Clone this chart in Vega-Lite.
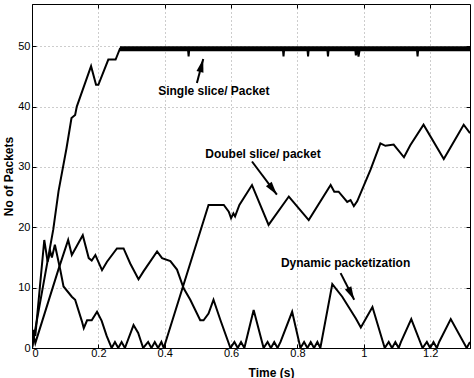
{
  "$schema": "https://vega.github.io/schema/vega-lite/v6.json",
  "width": 438,
  "height": 344,
  "autosize": {"type": "none"},
  "padding": {"left": 32, "top": 4, "right": 4, "bottom": 30},
  "background": "white",
  "config": {
    "view": {"stroke": "black", "strokeWidth": 1},
    "font": "Liberation Sans",
    "axis": {
      "labelFont": "Liberation Sans",
      "labelFontSize": 11,
      "labelColor": "black",
      "titleFont": "Liberation Sans",
      "titleFontSize": 12,
      "titleFontWeight": "bold",
      "titleColor": "black",
      "domainColor": "black",
      "tickColor": "black",
      "gridColor": "#9a9a9a",
      "gridDash": [1, 3],
      "gridWidth": 1
    }
  },
  "datasets": {
    "lines": [
      {"series": "Single slice/ Packet", "t": 0, "n": 0},
      {"series": "Single slice/ Packet", "t": 0.004, "n": 1.3},
      {"series": "Single slice/ Packet", "t": 0.064, "n": 19.6},
      {"series": "Single slice/ Packet", "t": 0.08, "n": 26},
      {"series": "Single slice/ Packet", "t": 0.104, "n": 33.1},
      {"series": "Single slice/ Packet", "t": 0.119, "n": 38.1},
      {"series": "Single slice/ Packet", "t": 0.13, "n": 38.6},
      {"series": "Single slice/ Packet", "t": 0.135, "n": 40},
      {"series": "Single slice/ Packet", "t": 0.178, "n": 46.7},
      {"series": "Single slice/ Packet", "t": 0.193, "n": 43.6},
      {"series": "Single slice/ Packet", "t": 0.2, "n": 43.6},
      {"series": "Single slice/ Packet", "t": 0.23, "n": 47.8},
      {"series": "Single slice/ Packet", "t": 0.252, "n": 47.8},
      {"series": "Single slice/ Packet", "t": 0.265, "n": 49.6},
      {"series": "Single slice/ Packet", "t": 0.47, "n": 49.6},
      {"series": "Single slice/ Packet", "t": 0.472, "n": 48.3},
      {"series": "Single slice/ Packet", "t": 0.474, "n": 49.6},
      {"series": "Single slice/ Packet", "t": 0.756, "n": 49.6},
      {"series": "Single slice/ Packet", "t": 0.758, "n": 48.3},
      {"series": "Single slice/ Packet", "t": 0.76, "n": 49.6},
      {"series": "Single slice/ Packet", "t": 0.83, "n": 49.6},
      {"series": "Single slice/ Packet", "t": 0.832, "n": 48.3},
      {"series": "Single slice/ Packet", "t": 0.834, "n": 49.6},
      {"series": "Single slice/ Packet", "t": 0.89, "n": 49.6},
      {"series": "Single slice/ Packet", "t": 0.892, "n": 48.3},
      {"series": "Single slice/ Packet", "t": 0.894, "n": 49.6},
      {"series": "Single slice/ Packet", "t": 0.974, "n": 49.6},
      {"series": "Single slice/ Packet", "t": 0.976, "n": 48.5},
      {"series": "Single slice/ Packet", "t": 0.98, "n": 49.6},
      {"series": "Single slice/ Packet", "t": 0.984, "n": 48.3},
      {"series": "Single slice/ Packet", "t": 0.988, "n": 49.6},
      {"series": "Single slice/ Packet", "t": 1.16, "n": 49.6},
      {"series": "Single slice/ Packet", "t": 1.162, "n": 48.3},
      {"series": "Single slice/ Packet", "t": 1.164, "n": 49.6},
      {"series": "Single slice/ Packet", "t": 1.32, "n": 49.6},

      {"series": "Doubel slice/ packet", "t": 0, "n": 0},
      {"series": "Doubel slice/ packet", "t": 0.005, "n": 3},
      {"series": "Doubel slice/ packet", "t": 0.01, "n": 2},
      {"series": "Doubel slice/ packet", "t": 0.037, "n": 17.9},
      {"series": "Doubel slice/ packet", "t": 0.047, "n": 14.3},
      {"series": "Doubel slice/ packet", "t": 0.055, "n": 16},
      {"series": "Doubel slice/ packet", "t": 0.06, "n": 15},
      {"series": "Doubel slice/ packet", "t": 0.069, "n": 17.1},
      {"series": "Doubel slice/ packet", "t": 0.085, "n": 13},
      {"series": "Doubel slice/ packet", "t": 0.095, "n": 10.2},
      {"series": "Doubel slice/ packet", "t": 0.12, "n": 8.5},
      {"series": "Doubel slice/ packet", "t": 0.13, "n": 8},
      {"series": "Doubel slice/ packet", "t": 0.15, "n": 4.5},
      {"series": "Doubel slice/ packet", "t": 0.156, "n": 3.3},
      {"series": "Doubel slice/ packet", "t": 0.166, "n": 4.6},
      {"series": "Doubel slice/ packet", "t": 0.18, "n": 4.6},
      {"series": "Doubel slice/ packet", "t": 0.196, "n": 6.0},
      {"series": "Doubel slice/ packet", "t": 0.21, "n": 4.5},
      {"series": "Doubel slice/ packet", "t": 0.225, "n": 2},
      {"series": "Doubel slice/ packet", "t": 0.24, "n": 0},
      {"series": "Doubel slice/ packet", "t": 0.25, "n": 1},
      {"series": "Doubel slice/ packet", "t": 0.26, "n": 0},
      {"series": "Doubel slice/ packet", "t": 0.27, "n": 1},
      {"series": "Doubel slice/ packet", "t": 0.28, "n": 0},
      {"series": "Doubel slice/ packet", "t": 0.306, "n": 3.8},
      {"series": "Doubel slice/ packet", "t": 0.32, "n": 2.5},
      {"series": "Doubel slice/ packet", "t": 0.335, "n": 0},
      {"series": "Doubel slice/ packet", "t": 0.35, "n": 1},
      {"series": "Doubel slice/ packet", "t": 0.36, "n": 0},
      {"series": "Doubel slice/ packet", "t": 0.37, "n": 1},
      {"series": "Doubel slice/ packet", "t": 0.38, "n": 0},
      {"series": "Doubel slice/ packet", "t": 0.39, "n": 1},
      {"series": "Doubel slice/ packet", "t": 0.397, "n": 0},
      {"series": "Doubel slice/ packet", "t": 0.532, "n": 23.7},
      {"series": "Doubel slice/ packet", "t": 0.578, "n": 23.7},
      {"series": "Doubel slice/ packet", "t": 0.593, "n": 22.6},
      {"series": "Doubel slice/ packet", "t": 0.6, "n": 21.5},
      {"series": "Doubel slice/ packet", "t": 0.607, "n": 22.3},
      {"series": "Doubel slice/ packet", "t": 0.612, "n": 21.8},
      {"series": "Doubel slice/ packet", "t": 0.625, "n": 23.7},
      {"series": "Doubel slice/ packet", "t": 0.663, "n": 27.0},
      {"series": "Doubel slice/ packet", "t": 0.713, "n": 20.4},
      {"series": "Doubel slice/ packet", "t": 0.774, "n": 25.1},
      {"series": "Doubel slice/ packet", "t": 0.834, "n": 21.2},
      {"series": "Doubel slice/ packet", "t": 0.9, "n": 27.0},
      {"series": "Doubel slice/ packet", "t": 0.911, "n": 25.9},
      {"series": "Doubel slice/ packet", "t": 0.924, "n": 25.9},
      {"series": "Doubel slice/ packet", "t": 0.95, "n": 24.2},
      {"series": "Doubel slice/ packet", "t": 0.96, "n": 24.5},
      {"series": "Doubel slice/ packet", "t": 0.97, "n": 23.5},
      {"series": "Doubel slice/ packet", "t": 0.98, "n": 24.3},
      {"series": "Doubel slice/ packet", "t": 1.02, "n": 29.5},
      {"series": "Doubel slice/ packet", "t": 1.05, "n": 33.9},
      {"series": "Doubel slice/ packet", "t": 1.065, "n": 33.5},
      {"series": "Doubel slice/ packet", "t": 1.09, "n": 33.7},
      {"series": "Doubel slice/ packet", "t": 1.121, "n": 31.6},
      {"series": "Doubel slice/ packet", "t": 1.14, "n": 33.6},
      {"series": "Doubel slice/ packet", "t": 1.18, "n": 37.0},
      {"series": "Doubel slice/ packet", "t": 1.241, "n": 31.3},
      {"series": "Doubel slice/ packet", "t": 1.301, "n": 37.0},
      {"series": "Doubel slice/ packet", "t": 1.32, "n": 35.6},

      {"series": "Dynamic packetization", "t": 0, "n": 0},
      {"series": "Dynamic packetization", "t": 0.005, "n": 2},
      {"series": "Dynamic packetization", "t": 0.01, "n": 0.8},
      {"series": "Dynamic packetization", "t": 0.079, "n": 12.9},
      {"series": "Dynamic packetization", "t": 0.109, "n": 17.9},
      {"series": "Dynamic packetization", "t": 0.12, "n": 15.4},
      {"series": "Dynamic packetization", "t": 0.14, "n": 17.4},
      {"series": "Dynamic packetization", "t": 0.153, "n": 18.7},
      {"series": "Dynamic packetization", "t": 0.171, "n": 14.9},
      {"series": "Dynamic packetization", "t": 0.18, "n": 14.5},
      {"series": "Dynamic packetization", "t": 0.191, "n": 15.4},
      {"series": "Dynamic packetization", "t": 0.211, "n": 12.9},
      {"series": "Dynamic packetization", "t": 0.226, "n": 14.3},
      {"series": "Dynamic packetization", "t": 0.256, "n": 16.5},
      {"series": "Dynamic packetization", "t": 0.276, "n": 16.5},
      {"series": "Dynamic packetization", "t": 0.296, "n": 14.0},
      {"series": "Dynamic packetization", "t": 0.321, "n": 11.4},
      {"series": "Dynamic packetization", "t": 0.336, "n": 12.7},
      {"series": "Dynamic packetization", "t": 0.377, "n": 16},
      {"series": "Dynamic packetization", "t": 0.392, "n": 14.9},
      {"series": "Dynamic packetization", "t": 0.417, "n": 14.4},
      {"series": "Dynamic packetization", "t": 0.437, "n": 13.0},
      {"series": "Dynamic packetization", "t": 0.457, "n": 9.9},
      {"series": "Dynamic packetization", "t": 0.477, "n": 8.0},
      {"series": "Dynamic packetization", "t": 0.507, "n": 4.6},
      {"series": "Dynamic packetization", "t": 0.517, "n": 4.6},
      {"series": "Dynamic packetization", "t": 0.532, "n": 5.7},
      {"series": "Dynamic packetization", "t": 0.547, "n": 8.0},
      {"series": "Dynamic packetization", "t": 0.568, "n": 4.6},
      {"series": "Dynamic packetization", "t": 0.598, "n": 0},
      {"series": "Dynamic packetization", "t": 0.61, "n": 1},
      {"series": "Dynamic packetization", "t": 0.62, "n": 0},
      {"series": "Dynamic packetization", "t": 0.63, "n": 1},
      {"series": "Dynamic packetization", "t": 0.64, "n": 0},
      {"series": "Dynamic packetization", "t": 0.668, "n": 6.3},
      {"series": "Dynamic packetization", "t": 0.698, "n": 0},
      {"series": "Dynamic packetization", "t": 0.71, "n": 1},
      {"series": "Dynamic packetization", "t": 0.72, "n": 0},
      {"series": "Dynamic packetization", "t": 0.73, "n": 1},
      {"series": "Dynamic packetization", "t": 0.74, "n": 0},
      {"series": "Dynamic packetization", "t": 0.749, "n": 1},
      {"series": "Dynamic packetization", "t": 0.784, "n": 6.0},
      {"series": "Dynamic packetization", "t": 0.809, "n": 0},
      {"series": "Dynamic packetization", "t": 0.82, "n": 1},
      {"series": "Dynamic packetization", "t": 0.83, "n": 0},
      {"series": "Dynamic packetization", "t": 0.84, "n": 1},
      {"series": "Dynamic packetization", "t": 0.85, "n": 0},
      {"series": "Dynamic packetization", "t": 0.86, "n": 1},
      {"series": "Dynamic packetization", "t": 0.869, "n": 0},
      {"series": "Dynamic packetization", "t": 0.905, "n": 10.6},
      {"series": "Dynamic packetization", "t": 0.935, "n": 8.5},
      {"series": "Dynamic packetization", "t": 0.976, "n": 4.9},
      {"series": "Dynamic packetization", "t": 0.991, "n": 3.4},
      {"series": "Dynamic packetization", "t": 1.026, "n": 6.8},
      {"series": "Dynamic packetization", "t": 1.063, "n": 0},
      {"series": "Dynamic packetization", "t": 1.075, "n": 1},
      {"series": "Dynamic packetization", "t": 1.085, "n": 0},
      {"series": "Dynamic packetization", "t": 1.095, "n": 1},
      {"series": "Dynamic packetization", "t": 1.105, "n": 0},
      {"series": "Dynamic packetization", "t": 1.112, "n": 1},
      {"series": "Dynamic packetization", "t": 1.143, "n": 4.8},
      {"series": "Dynamic packetization", "t": 1.177, "n": 0},
      {"series": "Dynamic packetization", "t": 1.19, "n": 1},
      {"series": "Dynamic packetization", "t": 1.2, "n": 0},
      {"series": "Dynamic packetization", "t": 1.21, "n": 1},
      {"series": "Dynamic packetization", "t": 1.22, "n": 0},
      {"series": "Dynamic packetization", "t": 1.227, "n": 1},
      {"series": "Dynamic packetization", "t": 1.262, "n": 4.8},
      {"series": "Dynamic packetization", "t": 1.31, "n": 0},
      {"series": "Dynamic packetization", "t": 1.32, "n": 1}
    ],
    "notes": [
      {"label": "Single slice/ Packet", "tx": 0.548, "ty": 42.6, "ax": 0.497, "ay": 43.9, "bx": 0.516, "by": 47.9},
      {"label": "Doubel slice/ packet", "tx": 0.696, "ty": 32.2, "ax": 0.663, "ay": 30.9, "bx": 0.738, "by": 25.4},
      {"label": "Dynamic packetization", "tx": 0.945, "ty": 14.1, "ax": 0.93, "ay": 12.4, "bx": 0.971, "by": 8.0}
    ]
  },
  "resolve": {"axis": {"x": "independent", "y": "independent"}},
  "layer": [
    {
      "data": {"name": "lines"},
      "mark": {"type": "line", "color": "black", "strokeWidth": 2, "clip": true},
      "encoding": {
        "x": {
          "field": "t", "type": "quantitative",
          "scale": {"domain": [0, 1.32], "nice": false, "zero": false},
          "axis": {
            "values": [0, 0.2, 0.4, 0.6, 0.8, 1, 1.2], "format": "~g",
            "title": "Time (s)", "titleX": 239, "titleY": 24, "titleBaseline": "middle",
            "titleAlign": "center", "titleAnchor": null,
            "tickSize": -4, "labelPadding": 3, "grid": true
          }
        },
        "y": {
          "field": "n", "type": "quantitative",
          "scale": {"domain": [0, 57], "nice": false},
          "axis": {
            "values": [0, 10, 20, 30, 40, 50], "format": "d",
            "title": "No of Packets", "titleX": -24, "titleY": 172, "titleAngle": -90,
            "titleAlign": "center", "titleBaseline": "middle", "titleAnchor": null,
            "tickSize": -4, "labelPadding": 6, "grid": true
          }
        },
        "detail": {"field": "series"}
      }
    },
    {
      "data": {"name": "lines"},
      "transform": [{"filter": "datum.series == 'Single slice/ Packet' && datum.t >= 0.265 && datum.n >= 49"}],
      "mark": {"type": "line", "color": "black", "strokeWidth": 5},
      "encoding": {
        "x": {"field": "t", "type": "quantitative", "axis": {"orient": "top", "labels": false, "title": null, "grid": false, "tickSize": -4, "values": [0, 0.2, 0.4, 0.6, 0.8, 1, 1.2], "domain": false}},
        "y": {"field": "n", "type": "quantitative", "axis": {"orient": "right", "labels": false, "title": null, "grid": false, "tickSize": -4, "values": [0, 10, 20, 30, 40, 50], "domain": false}}
      }
    },
    {
      "data": {"name": "notes"},
      "mark": {"type": "rule", "color": "black", "strokeWidth": 2},
      "encoding": {
        "x": {"field": "ax", "type": "quantitative", "axis": null},
        "y": {"field": "ay", "type": "quantitative", "axis": null},
        "x2": {"field": "bx"},
        "y2": {"field": "by"}
      }
    },
    {
      "data": {"name": "notes"},
      "transform": [{"filter": "datum.label == 'Single slice/ Packet'"}],
      "mark": {"type": "point", "shape": "M0,0L0.4,1.5L-0.4,1.5Z", "filled": true, "color": "black", "opacity": 1, "size": 320, "angle": 14},
      "encoding": {
        "x": {"field": "bx", "type": "quantitative", "axis": null},
        "y": {"field": "by", "type": "quantitative", "axis": null}
      }
    },
    {
      "data": {"name": "notes"},
      "transform": [{"filter": "datum.label == 'Doubel slice/ packet'"}],
      "mark": {"type": "point", "shape": "M0,0L0.4,1.5L-0.4,1.5Z", "filled": true, "color": "black", "opacity": 1, "size": 320, "angle": 143},
      "encoding": {
        "x": {"field": "bx", "type": "quantitative", "axis": null},
        "y": {"field": "by", "type": "quantitative", "axis": null}
      }
    },
    {
      "data": {"name": "notes"},
      "transform": [{"filter": "datum.label == 'Dynamic packetization'"}],
      "mark": {"type": "point", "shape": "M0,0L0.4,1.5L-0.4,1.5Z", "filled": true, "color": "black", "opacity": 1, "size": 320, "angle": 153},
      "encoding": {
        "x": {"field": "bx", "type": "quantitative", "axis": null},
        "y": {"field": "by", "type": "quantitative", "axis": null}
      }
    },
    {
      "data": {"name": "notes"},
      "mark": {"type": "text", "font": "Liberation Sans", "fontSize": 12, "fontWeight": "bold", "color": "black", "align": "center", "baseline": "middle"},
      "encoding": {
        "x": {"field": "tx", "type": "quantitative", "axis": null},
        "y": {"field": "ty", "type": "quantitative", "axis": null},
        "text": {"field": "label"}
      }
    }
  ]
}
